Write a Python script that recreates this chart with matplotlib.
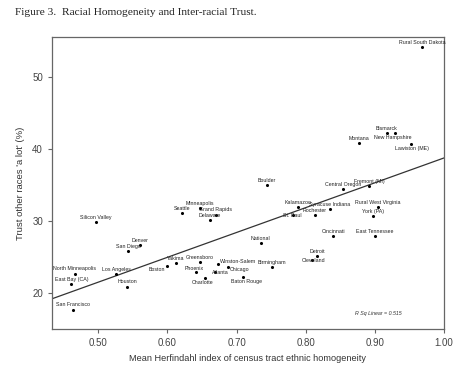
import matplotlib
matplotlib.use('Agg')
import matplotlib.pyplot as plt
import numpy as np

# data
cities = ['Rural South Dakota', 'Bismarck', 'New Hampshire', 'Montana', 'Lawiston (ME)',
          'Fremont (MI)', 'Central Oregon', 'Boulder', 'Kalamazoo', 'Syracuse Indiana',
          'St. Paul', 'Rochester', 'Rural West Virginia', 'York (PA)', 'Cincinnati',
          'East Tennessee', 'National', 'Detroit', 'Cleveland', 'Birmingham',
          'Baton Rouge', 'Chicago', 'Winston-Salem', 'Greensboro', 'Phoenix',
          'Atlanta', 'Charlotte', 'Yakima', 'Boston', 'Minneapolis',
          'Seattle', 'Grand Rapids', 'Delaware', 'Silicon Valley', 'Denver',
          'San Diego', 'North Minneapolis', 'East Bay (CA)', 'Los Angeles', 'Houston',
          'San Francisco']
herfindahl = [0.968, 0.917, 0.929, 0.877, 0.952,
              0.892, 0.854, 0.744, 0.789, 0.835,
              0.781, 0.813, 0.904, 0.897, 0.840,
              0.900, 0.735, 0.817, 0.809, 0.751,
              0.709, 0.687, 0.673, 0.647, 0.641,
              0.669, 0.654, 0.612, 0.599, 0.647,
              0.621, 0.670, 0.661, 0.497, 0.560,
              0.543, 0.466, 0.461, 0.526, 0.542,
              0.463]
trust = [54.1, 42.2, 42.2, 40.8, 40.7,
         34.8, 34.4, 35.0, 32.0, 31.7,
         30.9, 30.8, 31.9, 30.65, 27.9,
         27.9, 27.0, 25.1, 24.55, 23.6,
         22.2, 23.6, 24.0, 24.3, 22.9,
         22.9, 22.05, 24.1, 23.7, 31.75,
         31.05, 30.9, 30.1, 29.8, 26.6,
         25.8, 22.7, 21.3, 22.6, 20.9,
         17.7]
# fit line as drawn in the figure
fit_intercept = 4.26
fit_slope = 34.5
r_sq = 0.515

xticks = [0.50, 0.60, 0.70, 0.80, 0.90, 1.00]
yticks = [20, 30, 40, 50]

# label placement tweaks (dx, dy in points, ha, va)
label_pos = {
    'New Hampshire': (-1.5, -1.5, 'center', 'top'),
    'Lawiston (ME)': (1, -1.5, 'center', 'top'),
    'Winston-Salem': (1.5, 0.5, 'left', 'bottom'),
    'Chicago': (1.5, -1.5, 'left', 'center'),
    'Atlanta': (3.5, -0.5, 'center', 'center'),
    'Charlotte': (-1.5, -1.5, 'center', 'top'),
    'Baton Rouge': (3, -1, 'center', 'top'),
    'Boston': (-1.5, -0.5, 'right', 'top'),
    'Cleveland': (1, 0, 'center', 'center'),
    'St. Paul': (0, -0.5, 'center', 'center'),
    'Phoenix': (-1, 1, 'center', 'bottom'),
}

fig = plt.figure(figsize=(4.74, 3.67), dpi=100)
ax = fig.add_axes([0.1097, 0.1035, 0.827, 0.7965])

ax.scatter(herfindahl, trust, s=1.5, color='black', zorder=3)
for name, x, y in zip(cities, herfindahl, trust):
    dx, dy, ha, va = label_pos.get(name, (0, 1.5, 'center', 'bottom'))
    ax.annotate(name, (x, y), xytext=(dx, dy), textcoords='offset points',
                ha=ha, va=va, fontsize=3.8, color='#222222',
                family='Liberation Sans')

xl = np.array([0.433, 1.0])
ax.plot(xl, fit_intercept + fit_slope * xl, color='#333333', lw=0.9)

ax.text(0.905, 16.9, 'R Sq Linear = %.3f' % r_sq, fontsize=3.8, style='italic',
        ha='center', color='#333333', family='Liberation Sans')

ax.set_xlim(0.433, 1.0)
ax.set_ylim(15, 55.6)
ax.set_xticks(xticks)
ax.set_xticklabels(['%.2f' % v for v in xticks])
ax.set_yticks(yticks)
for s in ax.spines.values():
    s.set_color('#666666')
    s.set_linewidth(0.9)
ax.tick_params(direction='out', length=3, width=0.8, color='#666666',
               labelsize=7, labelcolor='#444444')
for lab in ax.get_xticklabels() + ax.get_yticklabels():
    lab.set_family('Liberation Sans')
ax.set_xlabel('Mean Herfindahl index of census tract ethnic homogeneity',
              fontsize=6.6, color='#333333', family='Liberation Sans', labelpad=4)
ax.set_ylabel("Trust other races 'a lot' (%)", fontsize=6.8, color='#333333',
              family='Liberation Sans', labelpad=5)

fig.text(0.031, 0.967, 'Figure 3.  Racial Homogeneity and Inter-racial Trust.',
         fontsize=8.2, family='Liberation Serif', va='center', color='#222222')

fig.savefig('out.png', dpi=100)
